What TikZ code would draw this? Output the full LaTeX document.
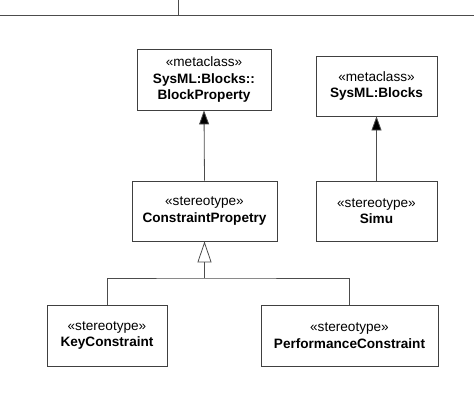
\documentclass[tikz,border=0pt]{standalone}
\usepackage{fontspec}
\setmainfont{Liberation Sans}
\usetikzlibrary{arrows.meta}
\begin{document}
\begin{tikzpicture}[
    x=1pt, y=-1pt,
    every node/.style={font=\fontsize{13.6}{16.5}\selectfont},
    umlbox/.style={rectangle, draw=black!75, line width=0.8pt, minimum height=61pt, align=center, inner sep=2pt},
    assoc/.style={-{Triangle[length=14pt,width=10pt,fill=black]}, draw=black!70, line width=0.8pt},
    gen/.style={-{Triangle[open,length=21pt,width=14pt]}, draw=black!70, line width=0.8pt},
    link/.style={draw=black!70, line width=0.8pt}
]
\useasboundingbox (0,0) rectangle (474,400);
% frame fragment at the top
\draw[link] (0,15) -- (474,15);
\draw[link] (178,0) -- (178,15);
% metaclasses
\node[umlbox, minimum width=134pt] (bprop) at (204,79.5) {«metaclass»\\\textbf{SysML:Blocks::}\\\textbf{BlockProperty}};
\node[umlbox, minimum width=121pt, minimum height=60pt] (blocks) at (376.5,86) {«metaclass»\\\textbf{SysML:Blocks}};
% stereotypes
\node[umlbox, minimum width=145pt, minimum height=60pt] (cprop) at (204.5,211) {«stereotype»\\\textbf{ConstraintPropetry}};
\node[umlbox, minimum width=121pt, minimum height=60pt] (simu) at (376.5,211) {«stereotype»\\\textbf{Simu}};
\node[umlbox, minimum width=120pt] (keyc) at (107,335.5) {«stereotype»\\\textbf{KeyConstraint}};
\node[umlbox, minimum width=177pt] (perfc) at (349.5,335.5) {«stereotype»\\\textbf{PerformanceConstraint}};
% extensions
\draw[assoc] (cprop.north) -- (bprop.south);
\draw[assoc] (simu.north) -- (blocks.south);
% generalization
\coordinate (join) at (204.5,278);
\draw[gen] (join) -- (cprop.south);
\draw[link] (keyc.north) |- (join) -| (perfc.north);
\end{tikzpicture}
\end{document}
